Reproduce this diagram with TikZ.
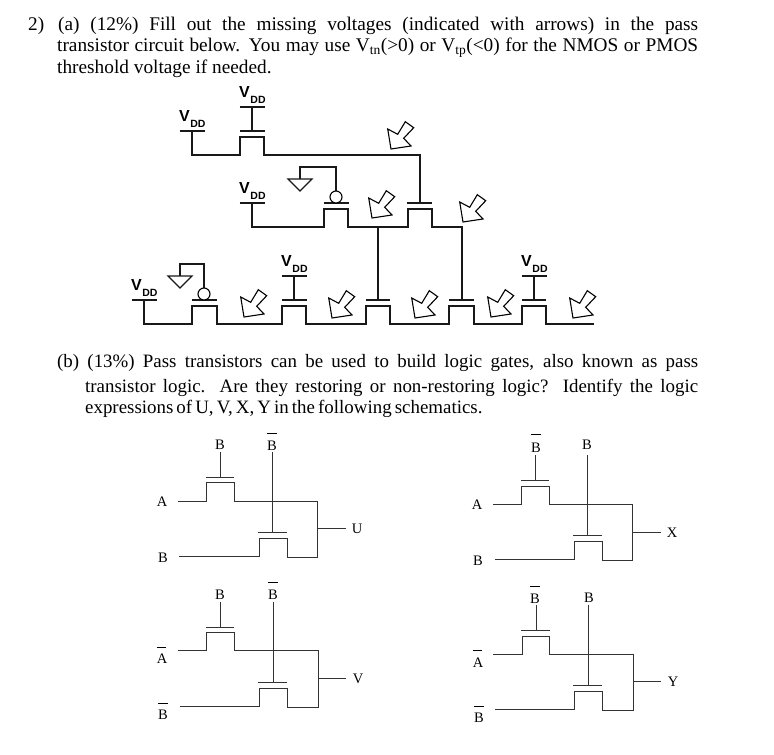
\documentclass[tikz,border=0pt]{standalone}
\usepackage{fontspec}
\setmainfont{Liberation Serif}
\newfontfamily\hv{Liberation Sans}
\newcommand{\barred}[2][16pt]{\leavevmode\smash{\makebox[0pt][l]{\raisebox{#1}{\rule{9.5pt}{0.6pt}}}}#2}
\begin{document}
\begin{tikzpicture}[x=1pt,y=-1pt,
  wire/.style={line width=1.1pt,black!90},
  bar/.style={line width=1.1pt,black!90},
  thin wire/.style={line width=1pt,black!80},
  main/.style={inner sep=0,anchor=base west,font=\fontsize{19.3}{21}\selectfont},
  mainb/.style={inner sep=0,anchor=base west,font=\fontsize{18.9}{21}\selectfont},
  vdd/.style={inner sep=0,anchor=base,font=\hv\bfseries\fontsize{16}{16}\selectfont},
  dd/.style={inner sep=0,anchor=base,font=\hv\bfseries\fontsize{10.5}{11}\selectfont},
  lab/.style={inner sep=0,anchor=base,font=\fontsize{14.5}{15}\selectfont},
  bub/.style={circle,draw,line width=1.1pt,minimum size=12pt,inner sep=0,fill=white},
  blockarrow/.pic={\draw[line width=1.1pt,fill=white,line join=miter] (0,0)--(-3.3,-20)--(6.7,-14.7)--(14.3,-27.3)--(22.7,-21.3)--(12.7,-10.7)--(20,-3)--cycle;}
]
\useasboundingbox (0,0) rectangle (774,755);
\newcommand{\vddlabel}[3]{% name, x, bar y
  \coordinate (#1l) at (#2-12.5,#3); \coordinate (#1r) at (#2+12.5,#3);
  \draw[bar] (#1l)--(#1r);
  \node[vdd] at (#2-7.5,#3-10) {V};
  \node[dd] at (#2+6,#3-4) {DD};
}
\node[main] at (28,30) {\makebox[30pt][l]{2)}\makebox[640pt][s]{(a) (12\%) Fill out the missing voltages (indicated with arrows) in the pass}};
\node[main] at (57,51.5) {\makebox[641pt][s]{transistor circuit below. You may use V\textsubscript{tn}(>0) or V\textsubscript{tp}(<0) for the NMOS or PMOS}};
\node[main] at (57,73) {threshold voltage if needed.};
\node[mainb] at (57,367.5) {\makebox[641pt][s]{(b) (13\%) Pass transistors can be used to build logic gates, also known as pass}};
\node[mainb] at (85,392) {\makebox[613pt][s]{transistor logic. Are they restoring or non-restoring logic? Identify the logic}};
\node[mainb] at (85,413) {\spaceskip=0.165em expressions of U, V, X, Y in the following schematics.};
% part a
\vddlabel{v1}{252}{107}
\vddlabel{v2}{192}{131}
\vddlabel{v3}{252}{203}
\vddlabel{v4}{144}{300}
\vddlabel{v5}{294}{276}
\vddlabel{v6}{534}{276}
\draw[wire] (192,131)--(192,155)--(240,155)--(240,137)--(264,137)--(264,155)--(420,155)--(420,203);
\draw[bar] (407,203)--(432,203);
\draw[bar] (240,131)--(265,131); \draw[wire] (252,107)--(252,131);
\draw[wire] (252,203)--(252,227)--(324,227)--(324,209)--(348,209)--(348,227)--(408,227)--(408,209)--(432,209)--(432,227)--(462,227)--(462,300);
\draw[bar] (324,203)--(349,203);
\draw[wire] (378,227)--(378,300);
\draw[wire] (336,191)--(336,167)--(300,167)--(300,179);
\draw[wire,line join=miter] (288,179)--(312,179)--(300,191)--cycle;
\node[bub] (b1) at (336,197) {};
\draw[wire] (144,300)--(144,324)--(192,324)--(192,306)--(217,306)--(217,324)--(282,324)--(282,306)--(306,306)--(306,324)--(366,324)--(366,306)--(390,306)--(390,324)--(449,324)--(449,306)--(474,306)--(474,324)--(522,324)--(522,306)--(546,306)--(546,324)--(594,324);
\foreach \a/\b in {192/217,282/307,366/390,449/474,522/546}{\draw[bar] (\a,300)--(\b,300);}
\draw[wire] (294,276)--(294,300);
\draw[wire] (534,276)--(534,300);
\draw[wire] (204,288)--(204,264)--(180,264)--(180,276);
\draw[wire,line join=miter] (168,276)--(192,276)--(180,288)--cycle;
\node[bub] (b2) at (204,294) {};
\foreach \x/\y in {244/317,332/318,391/149,372/218,463/222,415/318,491/317,573/318}{\pic at (\x,\y) {blockarrow};}
% part b
% U
\draw[thin wire] (178,501)--(206,501)--(206,482)--(234,482)--(234,501)--(317,501)--(317,557)--(287,557)--(287,538)--(259,538)--(259,556)--(179,556);
\draw[thin wire] (206,477)--(234,477) (220,477)--(220,452);
\draw[thin wire] (258,532)--(287,532) (272,532)--(272,452);
\draw[thin wire] (317,528)--(346,528);
\node[lab] at (220,449.5) {B};
\node[lab] at (272,450) {\barred[16.5pt]{B}};
\node[lab] at (162,506) {A};
\node[lab] at (163,562) {B};
\node[lab] at (357,533) {U};
% V
\draw[thin wire] (178,650)--(206,650)--(206,632)--(234,632)--(234,650)--(318,650)--(318,707)--(287,707)--(287,688)--(259,688)--(259,706)--(180,706);
\draw[thin wire] (206,627)--(234,627) (220,627)--(220,602);
\draw[thin wire] (258,682)--(287,682) (273,682)--(273,602);
\draw[thin wire] (318,678)--(346,678);
\node[lab] at (220,599) {B};
\node[lab] at (273,599) {\barred[16.5pt]{B}};
\node[lab] at (162,663) {\barred[15pt]{A}};
\node[lab] at (163,719) {\barred[15.5pt]{B}};
\node[lab] at (358,683) {V};
% X
\draw[thin wire] (493,504)--(521,504)--(521,486)--(549,486)--(549,504)--(632,504)--(632,560)--(602,560)--(602,541)--(574,541)--(574,559)--(495,559);
\draw[thin wire] (521,480)--(549,480) (535,480)--(535,455);
\draw[thin wire] (573,535)--(602,535) (587,535)--(587,455);
\draw[thin wire] (632,532)--(661,532);
\node[lab] at (536,452) {\barred[17pt]{B}};
\node[lab] at (587,449.5) {B};
\node[lab] at (477,509) {A};
\node[lab] at (478,565) {B};
\node[lab] at (672,537) {X};
% Y
\draw[thin wire] (493,654)--(522,654)--(522,636)--(549,636)--(549,654)--(633,654)--(633,710)--(602,710)--(602,691)--(574,691)--(574,709)--(495,709);
\draw[thin wire] (521,630)--(550,630) (536,630)--(536,605);
\draw[thin wire] (573,685)--(602,685) (588,685)--(588,605);
\draw[thin wire] (633,681)--(661,681);
\node[lab] at (535,603) {\barred[16pt]{B}};
\node[lab] at (589,602) {B};
\node[lab] at (478,667) {\barred[16pt]{A}};
\node[lab] at (479,722.5) {\barred[15.5pt]{B}};
\node[lab] at (673,686) {Y};
\end{tikzpicture}
\end{document}
